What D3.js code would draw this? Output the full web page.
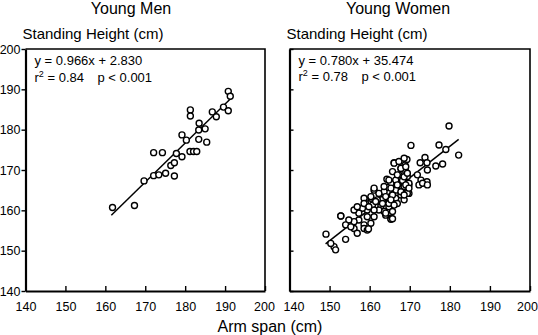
<!DOCTYPE html>
<html>
<head>
<meta charset="utf-8">
<script src="https://cdn.jsdelivr.net/npm/d3@7"></script>
<style>
  body { margin: 0; background: #fff; }
  svg { font-family: "Liberation Sans", Arial, Helvetica, sans-serif; }
</style>
</head>
<body>
<div class="chart"></div>
<script>
// Arm span vs standing height
const menArm = [161.8, 167.3, 169.7, 172.1, 173.4, 175.1, 177.3, 172.1, 174.3, 176.4,
  177.3, 177.8, 179.2, 179.2, 180.3, 181.2, 182.1, 182.9, 183.4, 185.4,
  185.0, 183.4, 183.5, 181.3, 181.3, 186.8, 187.8, 189.6, 190.8, 191.3, 190.8];
const menHeight = [160.7, 161.2, 167.3, 168.6, 168.8, 169.2, 168.5, 174.3, 174.3, 171.1,
  171.8, 174.1, 173.3, 178.7, 177.4, 174.6, 174.6, 174.6, 177.6, 176.9,
  180.2, 179.9, 181.6, 184.9, 183.4, 184.4, 183.2, 185.6, 189.5, 188.3, 184.7];

const womenArm = [179.8, 170.3, 177.3, 179.0, 182.2, 173.8, 172.6, 174.3, 174.4, 176.5,
  178.2, 169.3, 168.8, 166.1, 167.8, 169.0, 167.3, 169.4, 168.2, 166.9,
  168.2, 169.8, 169.8, 171.9, 172.8, 174.3, 172.3, 164.3, 165.3, 166.5,
  164.4, 166.5, 165.7, 163.6, 161.1, 163.2, 164.8, 166.5, 168.2, 161.9,
  160.3, 158.6, 159.0, 160.7, 162.8, 164.8, 165.7, 163.6, 162.3, 161.1,
  159.4, 158.2, 157.3, 156.1, 159.4, 161.1, 164.0, 165.3, 160.3, 158.6,
  157.3, 156.1, 154.8, 154.0, 152.8, 156.1, 156.9, 158.6, 159.4, 155.3,
  154.0, 151.1, 151.5, 149.1, 150.3, 166.1, 167.3, 168.6, 167.8, 169.0,
  165.7, 166.9, 168.6, 169.4, 164.8, 163.6, 165.3, 166.9, 168.6, 169.8,
  161.1, 162.3, 164.0, 165.7, 167.8, 169.4, 160.3, 161.5, 163.2, 164.8,
  166.9, 168.6, 158.6, 156.9, 159.8, 173.2, 174.4, 169.0, 169.8, 167.8,
  168.6, 165.3, 166.1, 164.0, 165.3, 152.8, 165.7, 159.7];
const womenHeight = [180.9, 176.1, 176.2, 175.1, 173.7, 173.1, 171.8, 171.8, 170.0, 171.0,
  171.5, 172.6, 171.2, 171.8, 170.4, 169.6, 168.8, 168.4, 167.4, 166.3,
  165.5, 166.3, 164.2, 168.8, 167.5, 167.1, 166.3, 167.7, 166.7, 167.5,
  165.7, 165.0, 163.8, 164.6, 165.0, 162.7, 163.0, 163.0, 164.2, 162.6,
  163.0, 163.0, 161.7, 161.3, 161.1, 160.9, 159.7, 159.7, 160.1, 160.1,
  160.1, 160.5, 159.3, 160.1, 158.4, 158.4, 158.8, 158.0, 156.8, 156.4,
  157.6, 157.2, 157.6, 156.4, 158.6, 155.5, 154.3, 155.5, 155.1, 155.9,
  152.8, 151.0, 150.2, 154.1, 151.8, 171.7, 172.1, 172.9, 170.4, 170.8,
  169.6, 168.8, 168.3, 169.2, 167.5, 165.9, 165.5, 166.3, 165.9, 166.7,
  165.5, 164.2, 163.4, 163.8, 163.8, 164.2, 163.4, 162.2, 161.7, 161.7,
  161.7, 162.6, 161.7, 160.9, 160.9, 166.7, 166.3, 166.3, 165.5, 164.6,
  163.8, 162.6, 161.3, 159.3, 157.8, 158.6, 157.9, 155.4];

// fitted lines, end points as drawn
const menFitX = [161.5, 191.3];
const menFitY = [158.8, 187.6];
const womenFitX = [149.0, 182.2];
const womenFitY = [151.7, 177.6];

const xTicks = [140, 150, 160, 170, 180, 190, 200];
const yTicks = [140, 150, 160, 170, 180, 190, 200];

const width = 538, height = 335;
const svg = d3.select(".chart").append("svg")
  .attr("width", width)
  .attr("height", height);

const y = d3.scaleLinear().domain([140, 200]).range([291, 49]);

function panel(opts) {
  const x = d3.scaleLinear().domain([140, 200]).range(opts.xRange);
  const g = svg.append("g");

  // top and right edges of the box
  g.append("path")
    .attr("d", `M${x(140)},${y(200)}H${x(200)}V${y(140)}`)
    .attr("fill", "none")
    .attr("stroke", "#000")
    .attr("stroke-width", 1.6);

  // x axis, ticks pointing inside
  const xAxis = g.append("g")
    .attr("transform", `translate(0,${y(140)})`)
    .call(d3.axisBottom(x).tickValues(xTicks).tickSize(-5).tickSizeOuter(0).tickPadding(11));
  xAxis.select(".domain").attr("stroke-width", 2.2);
  xAxis.selectAll(".tick line").attr("stroke-width", 1.4);
  xAxis.selectAll("text").style("font-size", "12.5px").attr("fill", "#000")
    .attr("dx", (d, i) => i === 0 ? opts.firstShift : (i === xTicks.length - 1 ? opts.lastShift : 0));

  // y axis
  const yAxis = g.append("g")
    .attr("transform", `translate(${x(140)},0)`)
    .call(d3.axisLeft(y).tickValues(yTicks).tickSize(opts.yTickSize).tickSizeOuter(0).tickPadding(1));
  yAxis.select(".domain").attr("stroke-width", 2.2);
  yAxis.selectAll(".tick line").attr("stroke-width", 1.4);
  if (opts.yLabels) {
    yAxis.selectAll("text").style("font-size", "12.5px").attr("fill", "#000");
  } else {
    yAxis.selectAll("text").remove();
  }

  // titles
  svg.append("text")
    .attr("x", opts.titleX).attr("y", 14)
    .attr("text-anchor", "middle")
    .style("font-size", "16px")
    .text(opts.title);
  svg.append("text")
    .attr("x", x(140) - 3).attr("y", 39)
    .style("font-size", "15px")
    .text("Standing Height (cm)");

  // equation
  const eq = g.append("g").style("font-size", "13px");
  eq.append("text").attr("x", x(140) + 9).attr("y", 65).text(opts.eq);
  const r2 = eq.append("text").attr("x", x(140) + 9).attr("y", opts.r2Y);
  r2.append("tspan").text("r");
  r2.append("tspan").attr("dy", -5).style("font-size", "9px").text("2");
  r2.append("tspan").attr("dy", 5).text(" = " + opts.r2);
  eq.append("text").attr("x", x(140) + 72).attr("y", opts.r2Y).text("p < 0.001");

  // regression line
  g.append("line")
    .attr("x1", x(opts.fitX[0])).attr("y1", y(opts.fitY[0]))
    .attr("x2", x(opts.fitX[1])).attr("y2", y(opts.fitY[1]))
    .attr("stroke", "#000")
    .attr("stroke-width", 1.5);

  // points
  g.selectAll("circle")
    .data(opts.xs.map((v, i) => [v, opts.ys[i]]))
    .enter().append("circle")
    .attr("cx", d => x(d[0]))
    .attr("cy", d => y(d[1]))
    .attr("r", 3)
    .attr("fill", "#fff")
    .attr("stroke", "#000")
    .attr("stroke-width", 1.4);
}

panel({
  xRange: [25.5, 265], title: "Young Men", titleX: 131,
  xs: menArm, ys: menHeight, fitX: menFitX, fitY: menFitY,
  eq: "y = 0.966x + 2.830", r2: "0.84", r2Y: 82,
  yTickSize: 4, yLabels: true, firstShift: 0, lastShift: -1
});
panel({
  xRange: [289.5, 530], title: "Young Women", titleX: 398,
  xs: womenArm, ys: womenHeight, fitX: womenFitX, fitY: womenFitY,
  eq: "y = 0.780x + 35.474", r2: "0.78", r2Y: 81,
  yTickSize: -4, yLabels: false, firstShift: 4, lastShift: -3
});

svg.append("text")
  .attr("x", 270).attr("y", 332)
  .attr("text-anchor", "middle")
  .style("font-size", "16px")
  .text("Arm span (cm)");
</script>
</body>
</html>
